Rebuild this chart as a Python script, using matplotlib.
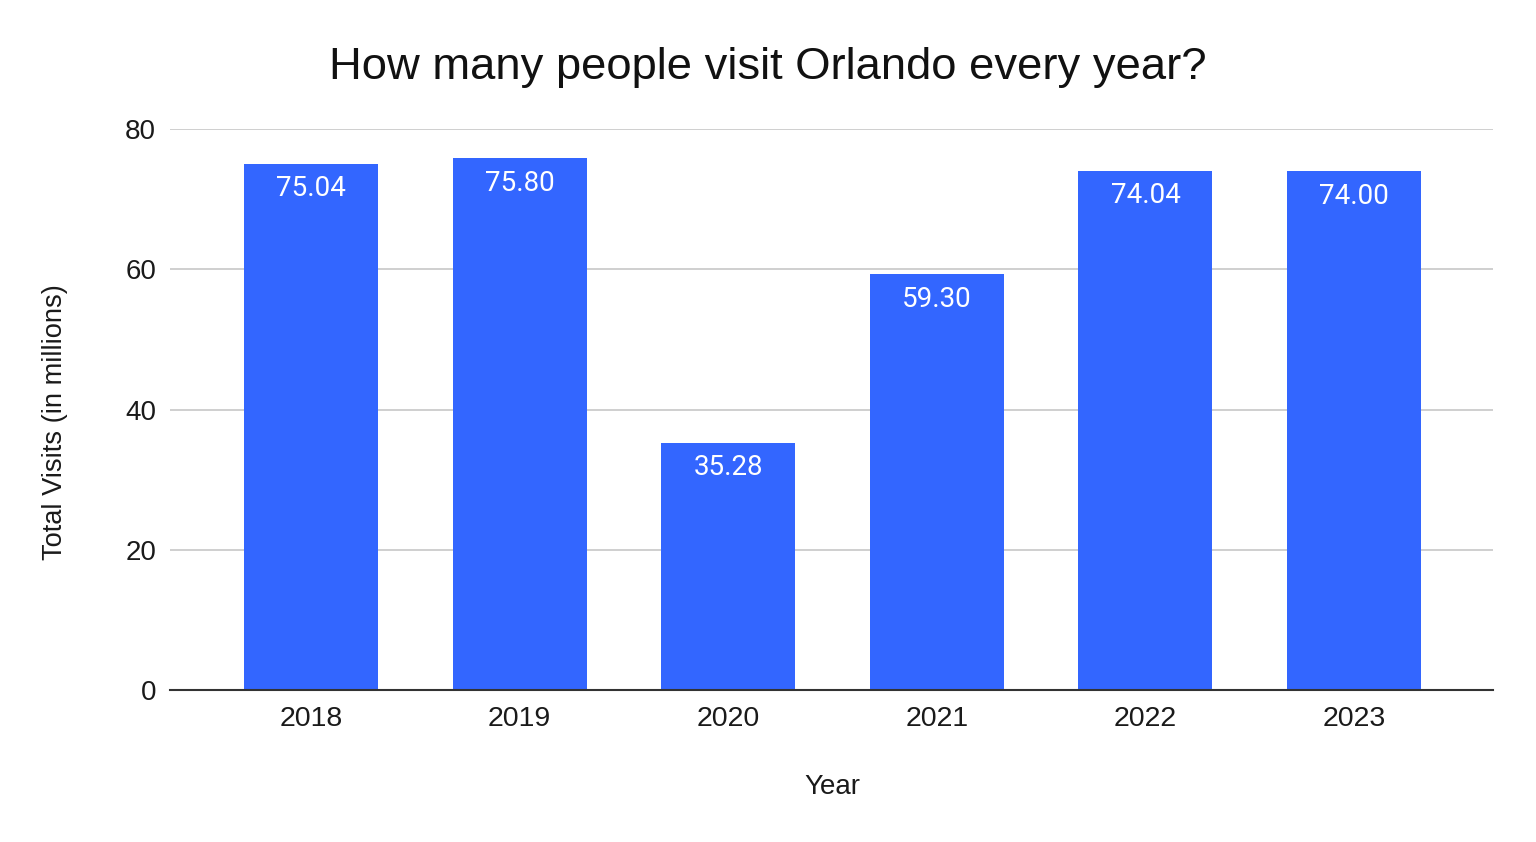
import matplotlib
matplotlib.use("Agg")
import matplotlib.pyplot as plt

years = ["2018", "2019", "2020", "2021", "2022", "2023"]
visits = [75.04, 75.80, 35.28, 59.30, 74.04, 74.00]
yticks = [0, 20, 40, 60, 80]

title = "How many people visit Orlando every year?"
xlabel = "Year"
ylabel = "Total Visits (in millions)"

bar_color = "#3366FF"

fig = plt.figure(figsize=(15.36, 8.42), dpi=100)
ax = fig.add_axes([170/1536, 1-690/842, (1493-170)/1536, (690-129)/842])

x = list(range(len(years)))
bars = ax.bar(x, visits, width=0.642, color=bar_color, zorder=3)

for b, v in zip(bars, visits):
    ax.annotate(f"{v:.2f}", xy=(b.get_x() + b.get_width()/2, b.get_height()),
                xytext=(0, -25), textcoords="offset pixels",
                ha="center", va="center", color="white",
                fontsize=20, family=["Roboto", "DejaVu Sans"], zorder=4)

ax.set_xlim(-0.676, len(years) - 1 + 0.666)
ax.set_ylim(0, 80)
ax.set_yticks(yticks)
ax.set_yticklabels([str(t) for t in yticks], fontsize=20, family="Liberation Sans")
ax.set_xticks(x)
ax.set_xticklabels(years, fontsize=20.5, family="Liberation Sans")
ax.tick_params(axis="both", length=0, colors="#1a1a1a")
ax.tick_params(axis="x", pad=11.5)
ax.tick_params(axis="y", pad=10)

ax.grid(axis="y", color="#cccccc", linewidth=1.3, zorder=0)
for s in ["top", "right", "left"]:
    ax.spines[s].set_visible(False)
ax.spines["bottom"].set_color("#333333")
ax.spines["bottom"].set_linewidth(1.5)
ax.spines["bottom"].set_zorder(5)

ax.set_xlabel(xlabel, fontsize=20, family="Liberation Sans", color="#1a1a1a", va="center")
ax.xaxis.set_label_coords((832-170)/1323, (690-787)/561)
ax.set_ylabel(ylabel, fontsize=19.6, family="Liberation Sans", color="#1a1a1a", va="center")
ax.yaxis.set_label_coords((55-170)/1323, (690-422)/561)

fig.text(768/1536, 1-67/842, title, ha="center", va="center",
         fontsize=32.7, family="Liberation Sans", color="#111111")

fig.savefig("out.png", dpi=100, facecolor="white")
